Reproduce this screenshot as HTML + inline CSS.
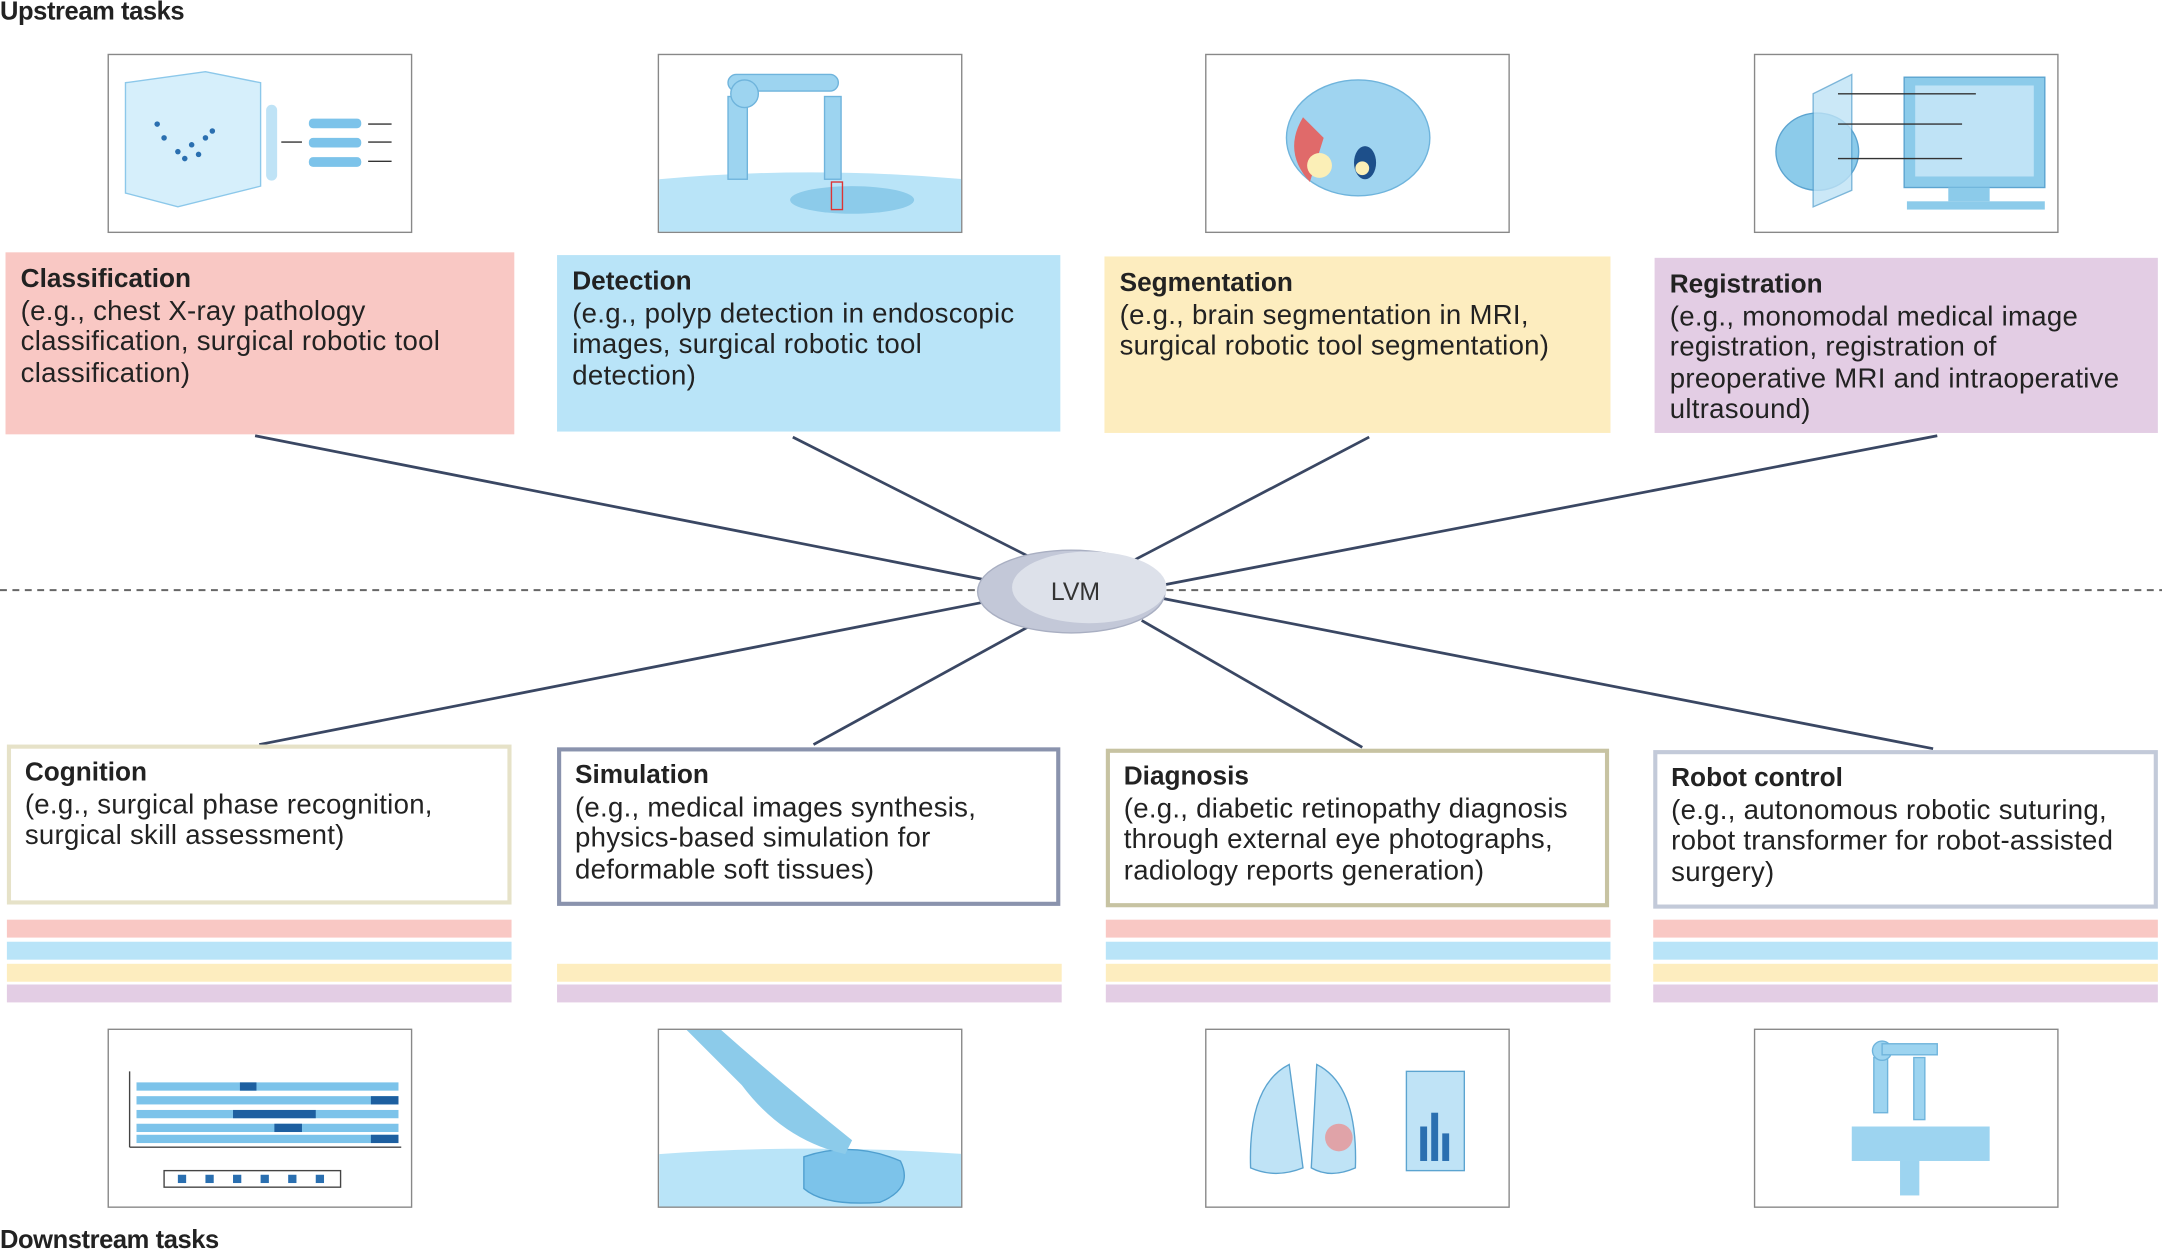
<!DOCTYPE html>
<html><head><meta charset="utf-8"><style>
html,body{margin:0;padding:0;background:#fff;width:2162px;height:1250px;overflow:hidden}
#w{position:absolute;left:0;top:0;width:1568px;height:907px;transform:scale(1.37883);transform-origin:0 0;font-family:"Liberation Sans",sans-serif;color:#222}
.b{position:absolute;box-sizing:border-box;font-size:20px;line-height:22.5px;padding:8px 11px 7px;letter-spacing:0.2px;white-space:nowrap}
.b b{font-size:19px;letter-spacing:0px}
.img{position:absolute;box-sizing:border-box;border:1px solid #888;background:#fff;width:221px;height:130px;overflow:hidden}
.s{position:absolute;height:13px}
.h{position:absolute;left:0;font-weight:bold;font-size:18.5px;letter-spacing:-0.3px}
</style></head><body><div id="w">
<div class="h" style="top:-3px">Upstream tasks</div>
<div class="h" style="top:888px">Downstream tasks</div>

<svg style="position:absolute;left:0;top:0" width="1568" height="907">
<line x1="0" y1="428" x2="1568" y2="428" stroke="#666" stroke-width="1.5" stroke-dasharray="5,4"/>
<g stroke="#3a4763" stroke-width="2">
<line x1="185" y1="316" x2="712" y2="420"/><line x1="575" y1="317" x2="745" y2="403"/>
<line x1="993" y1="317" x2="823" y2="406"/><line x1="1405" y1="316" x2="845" y2="424"/>
<line x1="188" y1="540" x2="712" y2="437"/><line x1="590" y1="540" x2="745" y2="455"/>
<line x1="988" y1="542" x2="828" y2="450"/><line x1="1402" y1="543" x2="843" y2="434"/>
</g>
<ellipse cx="777" cy="429" rx="68" ry="30" fill="#c3c8d8" stroke="#a9afc2"/>
<ellipse cx="790" cy="426" rx="56" ry="26" fill="#dde1ea"/>
<text x="780" y="435" font-size="18" text-anchor="middle" fill="#333" font-family="Liberation Sans">LVM</text>
</svg>

<div class="b" style="left:4px;top:183px;width:369px;height:132px;background:#f9c8c4"><b>Classification</b><br>(e.g., chest X-ray pathology<br>classification, surgical robotic tool<br>classification)</div>
<div class="b" style="left:404px;top:185px;width:365px;height:128px;background:#b9e4f8"><b>Detection</b><br>(e.g., polyp detection in endoscopic<br>images, surgical robotic tool<br>detection)</div>
<div class="b" style="left:801px;top:186px;width:367px;height:128px;background:#fdedbf"><b>Segmentation</b><br>(e.g., brain segmentation in MRI,<br>surgical robotic tool segmentation)</div>
<div class="b" style="left:1200px;top:187px;width:365px;height:127px;background:#e3cde4"><b>Registration</b><br>(e.g., monomodal medical image<br>registration, registration of<br>preoperative MRI and intraoperative<br>ultrasound)</div>

<div class="b" style="left:5px;top:540px;width:366px;height:116px;border:3px solid #e6e2c8;padding:6px 10px"><b>Cognition</b><br>(e.g., surgical phase recognition,<br>surgical skill assessment)</div>
<div class="b" style="left:404px;top:542px;width:365px;height:115px;border:3px solid #8a93ad;padding:6px 10px"><b>Simulation</b><br>(e.g., medical images synthesis,<br>physics-based simulation for<br>deformable soft tissues)</div>
<div class="b" style="left:802px;top:543px;width:365px;height:115px;border:3px solid #c7c3a2;padding:6px 10px"><b>Diagnosis</b><br>(e.g., diabetic retinopathy diagnosis<br>through external eye photographs,<br>radiology reports generation)</div>
<div class="b" style="left:1199px;top:544px;width:366px;height:115px;border:3px solid #c3cad9;padding:6px 10px"><b>Robot control</b><br>(e.g., autonomous robotic suturing,<br>robot transformer for robot-assisted<br>surgery)</div>

<div class="s" style="left:5px;top:667px;width:366px;background:#f9c8c4"></div>
<div class="s" style="left:5px;top:683px;width:366px;background:#b9e4f8"></div>
<div class="s" style="left:5px;top:699px;width:366px;background:#fdedbf"></div>
<div class="s" style="left:5px;top:714px;width:366px;background:#e3cde4"></div>
<div class="s" style="left:404px;top:699px;width:366px;background:#fdedbf"></div>
<div class="s" style="left:404px;top:714px;width:366px;background:#e3cde4"></div>
<div class="s" style="left:802px;top:667px;width:366px;background:#f9c8c4"></div>
<div class="s" style="left:802px;top:683px;width:366px;background:#b9e4f8"></div>
<div class="s" style="left:802px;top:699px;width:366px;background:#fdedbf"></div>
<div class="s" style="left:802px;top:714px;width:366px;background:#e3cde4"></div>
<div class="s" style="left:1199px;top:667px;width:366px;background:#f9c8c4"></div>
<div class="s" style="left:1199px;top:683px;width:366px;background:#b9e4f8"></div>
<div class="s" style="left:1199px;top:699px;width:366px;background:#fdedbf"></div>
<div class="s" style="left:1199px;top:714px;width:366px;background:#e3cde4"></div>

<!-- top images -->
<div class="img" style="left:78px;top:39px"><svg width="221" height="130">
<polygon points="12,20 70,12 110,20 110,95 50,110 12,100" fill="#d6effb" stroke="#8cc8ea"/>
<g fill="#2a6fb0"><circle cx="40" cy="60" r="2"/><circle cx="50" cy="70" r="2"/><circle cx="60" cy="65" r="2"/><circle cx="70" cy="60" r="2"/><circle cx="55" cy="75" r="2"/><circle cx="35" cy="50" r="2"/><circle cx="65" cy="72" r="2"/><circle cx="75" cy="55" r="2"/></g>
<rect x="114" y="36" width="8" height="55" rx="4" fill="#bfe3f6"/>
<g fill="#7cc3ea"><rect x="145" y="46" width="38" height="7" rx="3"/><rect x="145" y="60" width="38" height="7" rx="3"/><rect x="145" y="74" width="38" height="7" rx="3"/></g>
<g stroke="#333"><line x1="125" y1="63" x2="140" y2="63"/><line x1="188" y1="50" x2="205" y2="50"/><line x1="188" y1="63" x2="205" y2="63"/><line x1="188" y1="77" x2="205" y2="77"/></g></svg></div>
<div class="img" style="left:477px;top:39px"><svg width="221" height="130">
<path d="M0,90 Q110,80 221,90 L221,130 L0,130Z" fill="#b9e4f8"/>
<ellipse cx="140" cy="105" rx="45" ry="10" fill="#8ccbea"/>
<g fill="#9dd4f0" stroke="#6fb4dc"><rect x="50" y="30" width="14" height="60"/><rect x="50" y="14" width="80" height="12" rx="6"/><circle cx="62" cy="28" r="10"/><rect x="120" y="30" width="12" height="60"/></g>
<rect x="125" y="92" width="8" height="20" fill="none" stroke="#d33"/></svg></div>
<div class="img" style="left:874px;top:39px"><svg width="221" height="130">
<ellipse cx="110" cy="60" rx="52" ry="42" fill="#9fd4f0" stroke="#6fb4dc"/>
<path d="M70,45 Q55,70 75,92 L85,60Z" fill="#e06a6a"/>
<circle cx="82" cy="80" r="9" fill="#fbefb7"/><ellipse cx="115" cy="78" rx="8" ry="12" fill="#1d4f8a"/><circle cx="113" cy="82" r="5" fill="#fbefb7"/></svg></div>
<div class="img" style="left:1272px;top:39px"><svg width="221" height="130">
<ellipse cx="45" cy="70" rx="30" ry="28" fill="#8ccbea" stroke="#5ca4d0"/>
<polygon points="42,28 70,14 70,98 42,110" fill="#bfe3f6" opacity=".8" stroke="#5ca4d0"/>
<rect x="108" y="16" width="102" height="80" fill="#8ccbea" stroke="#5ca4d0"/>
<rect x="116" y="22" width="86" height="66" fill="#bfe3f6"/>
<rect x="140" y="96" width="30" height="10" fill="#8ccbea"/><rect x="110" y="106" width="100" height="6" fill="#8ccbea"/>
<g stroke="#333"><line x1="60" y1="28" x2="160" y2="28"/><line x1="60" y1="50" x2="150" y2="50"/><line x1="60" y1="75" x2="150" y2="75"/></g></svg></div>

<!-- bottom images -->
<div class="img" style="left:78px;top:746px"><svg width="221" height="130">
<line x1="15" y1="30" x2="15" y2="85" stroke="#444"/><line x1="15" y1="85" x2="212" y2="85" stroke="#444"/>
<g fill="#7cc3ea"><rect x="20" y="38" width="190" height="6"/><rect x="20" y="48" width="190" height="6"/><rect x="20" y="58" width="190" height="6"/><rect x="20" y="68" width="190" height="6"/><rect x="20" y="76" width="190" height="6"/></g>
<g fill="#1d5fa0"><rect x="95" y="38" width="12" height="6"/><rect x="90" y="58" width="60" height="6"/><rect x="190" y="48" width="20" height="6"/><rect x="190" y="76" width="20" height="6"/><rect x="120" y="68" width="20" height="6"/></g>
<rect x="40" y="102" width="128" height="12" fill="none" stroke="#444"/>
<g fill="#2a6fb0"><rect x="50" y="105" width="6" height="6"/><rect x="70" y="105" width="6" height="6"/><rect x="90" y="105" width="6" height="6"/><rect x="110" y="105" width="6" height="6"/><rect x="130" y="105" width="6" height="6"/><rect x="150" y="105" width="6" height="6"/></g></svg></div>
<div class="img" style="left:477px;top:746px"><svg width="221" height="130">
<path d="M0,90 Q110,82 221,90 L221,130 L0,130Z" fill="#b9e4f8"/>
<path d="M105,92 Q140,80 175,95 Q185,115 160,125 Q120,128 105,115Z" fill="#7cc3ea" stroke="#4f9fcf"/>
<path d="M20,0 L45,0 Q90,40 140,80 L135,90 Q90,80 60,40Z" fill="#8ccbea"/></svg></div>
<div class="img" style="left:874px;top:746px"><svg width="221" height="130">
<path d="M60,25 Q30,40 32,100 Q50,108 70,100Z" fill="#bfe3f6" stroke="#5ca4d0"/>
<path d="M80,25 Q110,40 108,100 Q90,108 76,100Z" fill="#bfe3f6" stroke="#5ca4d0"/>
<circle cx="96" cy="78" r="10" fill="#e88" opacity=".7"/>
<rect x="145" y="30" width="42" height="72" fill="#bfe3f6" stroke="#5ca4d0"/>
<g fill="#2a6fb0"><rect x="155" y="70" width="5" height="25"/><rect x="163" y="60" width="5" height="35"/><rect x="171" y="75" width="5" height="20"/></g></svg></div>
<div class="img" style="left:1272px;top:746px"><svg width="221" height="130">
<rect x="70" y="70" width="100" height="25" fill="#9dd4f0"/>
<rect x="105" y="95" width="14" height="25" fill="#9dd4f0"/>
<g fill="#9dd4f0" stroke="#6fb4dc"><rect x="86" y="20" width="10" height="40"/><circle cx="92" cy="15" r="7"/><rect x="92" y="10" width="40" height="8"/><rect x="115" y="20" width="8" height="45"/></g></svg></div>
</div></body></html>
